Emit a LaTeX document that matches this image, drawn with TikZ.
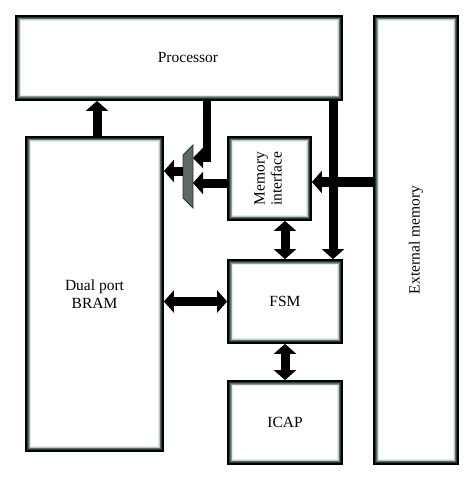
\documentclass[tikz,border=0pt]{standalone}
\usepackage{fontspec}
\setmainfont{Liberation Serif}
\usetikzlibrary{arrows.meta,calc}
\definecolor{ring1}{HTML}{2B3838}
\definecolor{ring2}{HTML}{5A6B6B}
\definecolor{ring3}{HTML}{8A9D9D}
\definecolor{ring4}{HTML}{BCCACA}
\definecolor{ring5}{HTML}{E4ECEC}
\definecolor{muxgray}{HTML}{5E6868}
\tikzset{
  blk/.style={draw=black, line width=1.8pt, fill=white, inner sep=0pt,
    font=\fontsize{15.5}{18}\selectfont, align=center,
    path picture={
      \foreach \i/\c in {1.3/ring1,2.2/ring2,3.1/ring3,4.0/ring4,4.9/ring5}{
        \draw[\c, line width=1pt]
          ([shift={(\i pt,\i pt)}]path picture bounding box.south west)
          rectangle
          ([shift={(-\i pt,-\i pt)}]path picture bounding box.north east);
      }
    }},
  bus/.style={line width=9pt, -{Triangle[width=22pt,length=10pt]}},
  dbus/.style={line width=9pt, {Triangle[width=22pt,length=10pt]}-{Triangle[width=22pt,length=10pt]}},
  plain/.style={line width=8pt, -{Triangle[width=20pt,length=10pt]}},
}
\begin{document}
\begin{tikzpicture}[x=1pt,y=-1pt]
\useasboundingbox (0,0) rectangle (474,481);
% blocks
\node[blk, minimum width=326pt, minimum height=84pt] (proc) at (179,58) {\hspace*{18pt}Processor};
\node[blk, minimum width=84pt, minimum height=448pt] (ext) at (416,240) {\rotatebox{90}{External memory}};
\node[blk, minimum width=137pt, minimum height=314pt] (bram) at (94.5,294) {Dual port\\BRAM};
\node[blk, minimum width=83pt, minimum height=83pt] (memif) at (269.5,178.5) {\rotatebox{90}{\begin{tabular}{@{}c@{}}Memory\\[-1pt]interface\end{tabular}}};
\node[blk, minimum width=114pt, minimum height=83pt] (fsm) at (285,301.5) {FSM};
\node[blk, minimum width=114pt, minimum height=83pt] (icap) at (285,422.5) {ICAP};
% multiplexer
\coordinate (muxinA) at (193,158);
\coordinate (muxinB) at (193,183);
\coordinate (muxout) at (183,171);
\filldraw[fill=muxgray, draw=black!80, line width=0.8pt]
  (183,155) -- (193,145) -- (193,208) -- (183,198) -- cycle;
% connectors
\coordinate (ptap) at (207,100);
\coordinate (ftap) at (333,100);
\draw[bus] ([xshift=2.5pt]bram.north) -- ([xshift=2.5pt]bram.north |- proc.south);
\draw[plain] (ptap) |- (muxinA);
\draw[bus] (ftap) -- (ftap |- fsm.north);
\draw[line width=10pt, -{Triangle[width=22pt,length=10pt]}] ([yshift=-3.5pt]ext.west |- memif.east) -- ([yshift=-3.5pt]memif.east);
\draw[bus] (memif.west |- muxinB) -- (muxinB);
\draw[bus] (muxout) -- (bram.east |- muxout);
\draw[dbus] (fsm.north |- memif.south) -- (fsm.north);
\draw[dbus] (bram.east |- fsm.west) -- (fsm.west);
\draw[dbus] (fsm.south) -- (icap.north);
\end{tikzpicture}
\end{document}
